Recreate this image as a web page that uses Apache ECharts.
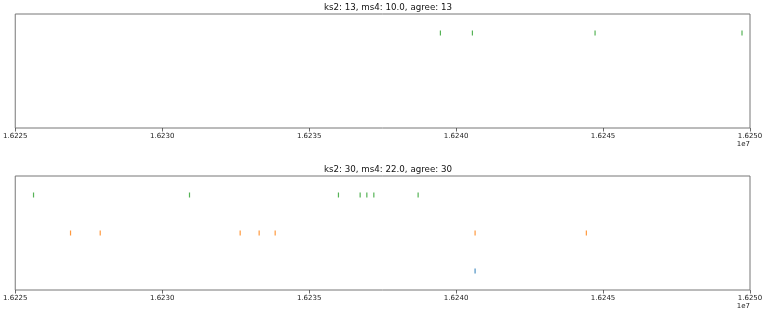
<!DOCTYPE html>
<html>
<head>
<meta charset="utf-8">
<script src="https://cdn.jsdelivr.net/npm/echarts@6/dist/echarts.min.js"></script>
<style>html,body{margin:0;padding:0;background:#fff}#c{width:776px;height:317px}</style>
</head>
<body>
<div id="c"></div>
<script>
// Titles
var titles = ["ks2: 13, ms4: 10.0, agree: 13", "ks2: 30, ms4: 22.0, agree: 30"];
// x-axis range and ticks
var xMin = 16225000, xMax = 16250000, xStep = 5000;
// Row offsets: blue = 0, orange = 1, green = 2
// Panel 1 events
var top_green = [16239466, 16240555, 16244728, 16249728];
var top_orange = [];
var top_blue = [];
// Panel 2 events
var bot_green = [16225622, 16230929, 16235997, 16236735, 16236963, 16237201, 16238708];
var bot_orange = [16226881, 16227891, 16232653, 16233299, 16233844, 16240646, 16244432];
var bot_blue = [16240646];

var colors = {green: '#2ca02c', orange: '#ff7f0e', blue: '#1f77b4'};

function pts(arr, row) { return arr.map(function (v) { return [v, row]; }); }
function ev(arr, row, color, idx) {
  return {
    type: 'scatter', xAxisIndex: idx, yAxisIndex: idx,
    symbol: 'rect', symbolSize: [1.2, 5],
    itemStyle: {color: color},
    silent: true, animation: false,
    data: pts(arr, row)
  };
}

var chart = echarts.init(document.getElementById('c'), null, {renderer: 'canvas'});
var font = 'DejaVu Sans';
function xAxis(idx) {
  return {
    type: 'value', gridIndex: idx, min: xMin, max: xMax, interval: xStep,
    position: 'bottom',
    axisLine: {show: false, onZero: false},
    axisTick: {show: true, length: 3.5, lineStyle: {color: '#444', width: 0.8}},
    splitLine: {show: false},
    axisLabel: {
      fontFamily: font, fontSize: 7, color: '#222', margin: 5,
      formatter: function (v) { return (v / 1e7).toFixed(4); }
    }
  };
}
function yAxis(idx) {
  return {
    type: 'value', gridIndex: idx, min: -0.5, max: 2.5,
    axisLine: {show: false, onZero: false}, axisTick: {show: false},
    axisLabel: {show: false}, splitLine: {show: false}
  };
}
chart.setOption({
  backgroundColor: '#fff',
  animation: false,
  title: [
    {text: titles[0], left: 383, top: -2, textAlign: 'center',
     textStyle: {fontFamily: font, fontSize: 8.7, fontWeight: 'normal', color: '#111'}},
    {text: titles[1], left: 383, top: 160, textAlign: 'center',
     textStyle: {fontFamily: font, fontSize: 8.7, fontWeight: 'normal', color: '#111'}}
  ],
  grid: [
    {left: 15, top: 14, width: 735, height: 114, show: true, borderColor: '#777', borderWidth: 1, backgroundColor: '#fff'},
    {left: 15, top: 176, width: 735, height: 114, show: true, borderColor: '#777', borderWidth: 1, backgroundColor: '#fff'}
  ],
  xAxis: [xAxis(0), xAxis(1)],
  yAxis: [yAxis(0), yAxis(1)],
  graphic: [
    {type: 'text', right: 26, top: 141, style: {text: '1e7', font: '7px DejaVu Sans', fill: '#222'}},
    {type: 'text', right: 26, top: 303, style: {text: '1e7', font: '7px DejaVu Sans', fill: '#222'}}
  ],
  series: [
    ev(top_blue, 0, colors.blue, 0),
    ev(top_orange, 1, colors.orange, 0),
    ev(top_green, 2, colors.green, 0),
    ev(bot_blue, 0, colors.blue, 1),
    ev(bot_orange, 1, colors.orange, 1),
    ev(bot_green, 2, colors.green, 1)
  ]
});
</script>
</body>
</html>
